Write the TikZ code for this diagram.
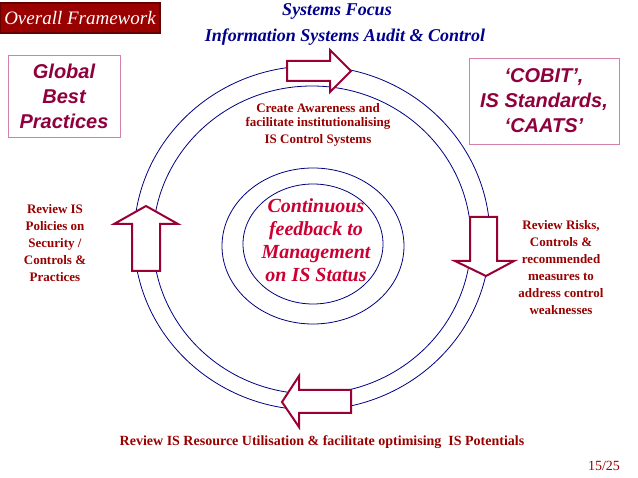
\documentclass[tikz,border=0pt]{standalone}
\usepackage{fontspec}
\setmainfont{Liberation Serif}
\newfontfamily\arial{Liberation Sans}
\begin{document}
\begin{tikzpicture}[x=1pt,y=-1pt,
  ring/.style={draw=blue!50!black,line width=0.8pt},
  barrow/.style={draw=red!50!violet!80!black,line width=2pt,fill=white,line join=miter},
  side/.style={text=red!60!black,font=\bfseries\fontsize{13}{17}\selectfont,align=center},
  title/.style={text=blue!55!black,font=\bfseries\itshape\fontsize{18}{20}\selectfont},
  gbox/.style={draw=red!30!violet!50,text=red!40!violet!80!black,font=\arial\bfseries\itshape\fontsize{20}{25}\selectfont,align=center,line width=0.8pt}]
\useasboundingbox[fill=white] (0,0) rectangle (638,478);
\node[fill=red!60!black,draw=red!40!black,line width=1.5pt,text=white,font=\itshape\fontsize{19}{21}\selectfont,minimum width=160,minimum height=30] (of) at (80,18) {Overall Framework};
\node[title] (t1) at (337,11) {Systems Focus};
\node[title] (t2) at (345,37) {Information Systems Audit \& Control};
\node[gbox,minimum width=112,minimum height=82] (gb) at (64,96) {Global\\Best\\Practices};
\node[gbox,minimum width=150,minimum height=86] (cb) at (544,101) {‘COBIT’,\\IS Standards,\\‘CAATS’};
\draw[ring] (312,238) ellipse [x radius=178,y radius=172];
\draw[ring] (312,240) ellipse [x radius=159,y radius=154];
\draw[ring] (313,246) ellipse [x radius=91,y radius=78];
\draw[ring] (313,244) ellipse [x radius=70,y radius=60];
% top arrow (right)
\draw[barrow] (287,61) -- (330,61) -- (330,50) -- (351,71) -- (330,92) -- (330,81) -- (287,81) -- cycle;
% left arrow (up)
\draw[barrow] (132,271) -- (132,224) -- (114,224) -- (146,206) -- (178,224) -- (160,224) -- (160,271) -- cycle;
% right arrow (down)
\draw[barrow] (470,217) -- (497,217) -- (497,261) -- (514,261) -- (486,276) -- (455,261) -- (470,261) -- cycle;
% bottom arrow (left)
\draw[barrow] (351,390) -- (351,413) -- (299,413) -- (299,427) -- (282,402) -- (299,376) -- (299,390) -- cycle;
\node[side] (ca) at (318,125) {Create Awareness and\\[-3pt]facilitate institutionalising\\IS Control Systems};
\node[text=red!60!violet,font=\bfseries\itshape\fontsize{20}{23}\selectfont,align=center] (cf) at (316,240) {Continuous\\feedback to\\Management\\on IS Status};
\node[side] (rl) at (55,243) {Review IS\\Policies on\\Security /\\Controls \&\\Practices};
\node[side] (rr) at (561,268) {Review Risks,\\Controls \&\\recommended\\measures to\\address control\\weaknesses};
\node[side,font=\bfseries\fontsize{14}{17}\selectfont] (rb) at (322,442) {Review IS Resource Utilisation \& facilitate optimising\ \ IS Potentials};
\node[text=red!60!black,font=\fontsize{14}{16}\selectfont] (pg) at (604,466) {15/25};
\end{tikzpicture}
\end{document}
